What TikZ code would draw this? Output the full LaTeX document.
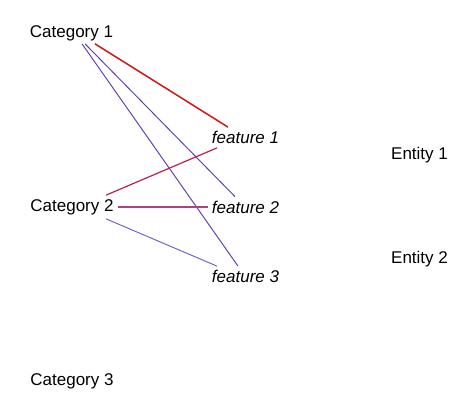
\documentclass[tikz,border=0pt]{standalone}
\usepackage{fontspec}
\setmainfont{Liberation Sans}
\usepackage{xcolor}
\usetikzlibrary{positioning,calc}

\definecolor{linkred}{RGB}{212,24,24}
\definecolor{linkcrimson}{RGB}{192,24,74}
\definecolor{linkpink}{RGB}{176,64,128}
\definecolor{linkpurple}{RGB}{96,56,176}
\definecolor{linkblue}{RGB}{100,96,208}

\begin{document}
\begin{tikzpicture}[x=0.03cm, y=-0.03cm, every node/.style={font=\fontsize{14.5}{17}\selectfont},
		feat/.style={font=\fontsize{14.5}{17}\selectfont\itshape},
		link/.style={line width=0.8pt}]
				\useasboundingbox (0,0) rectangle (474,414);
				\node (cat1) at (71.5,33.5) {Category 1};
				\node (cat2) at (72,207) {Category 2};
				\node (cat3) at (72,381.5) {Category 3};
				\node[feat] (feat1) at (245.5,137.5) {feature 1};
				\node[feat] (feat2) at (245.5,207) {feature 2};
				\node[feat] (feat3) at (245.5,276.5) {feature 3};
				\node (ent1) at (419.5,155.5) {Entity 1};
				\node (ent2) at (419.5,259.5) {Entity 2};
				
				\draw[link, linkred, line width=1.3pt] ($(cat1.south)+(23.5,-1.5)$) -- ($(feat1.north)+(-17.5,0)$);
				\draw[link, linkpurple] ($(cat1.south)+(13.5,-1.5)$) -- ($(feat2.north)+(-10.5,0)$);
				\draw[link, linkpurple] ($(cat1.south)+(10.5,-1.5)$) -- ($(feat3.north)+(-7.5,0)$);
				\draw[link, linkcrimson, line width=1pt] ($(cat2.north)+(34,0)$) -- ($(feat1.south)+(-28.5,0)$);
				\draw[link, linkpink, line width=1.2pt] (cat2.east) -- (feat2.west);
				\draw[link, linkblue] ($(cat2.south)+(34,0)$) -- ($(feat3.north)+(-28.5,0)$);
			\end{tikzpicture}
\end{document}
